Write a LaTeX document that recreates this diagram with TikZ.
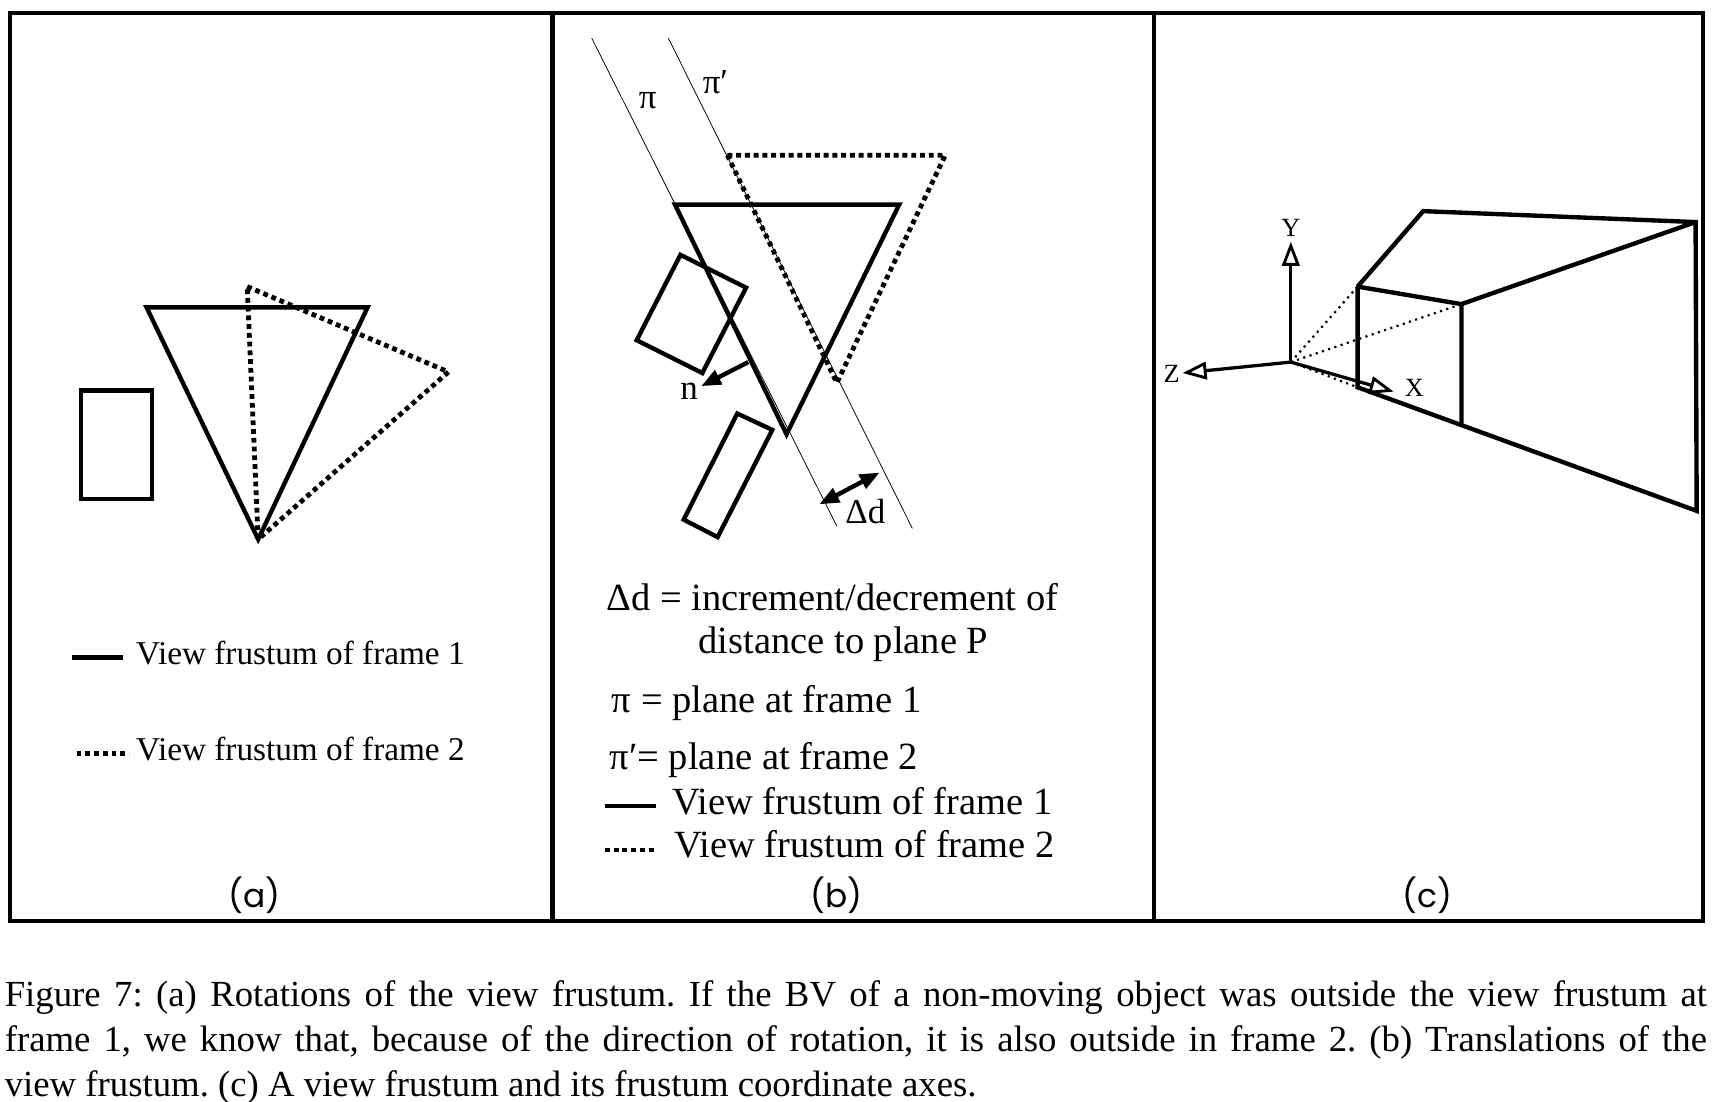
\documentclass[tikz,border=0pt]{standalone}
\usepackage{fontspec}
\setmainfont{Liberation Serif}
\newfontfamily\labfont{Poppins}
\usetikzlibrary{arrows.meta}
\begin{document}
\begin{tikzpicture}[x=0.5pt,y=-0.5pt,
  thk/.style={line width=2pt,line join=miter},
  dots/.style={line width=2.2pt,dash pattern=on 2.2pt off 1.8pt},
  thin/.style={line width=0.35pt},
  lbl/.style={inner sep=0pt,anchor=base west},
  opentip/.style={-{Triangle[open,length=11pt,width=8pt,line width=1.3pt]}},
  filltip/.style={-{Triangle[length=9pt,width=7pt]}}]
\useasboundingbox (0,0) rectangle (1565,1007);
% frames
\draw[line width=2pt] (9,12) rectangle (1557,842);
\draw[line width=2pt] (505,12) -- (505,842);
\draw[line width=2pt] (1055,12) -- (1055,842);
% panel a
\draw[thk] (74,357) rectangle (139,456);
\draw[thk] (134,281) -- (336,281) -- (236,493) -- cycle;
\draw[dots] (226,262) -- (410,340) -- (236,493) -- cycle;
\draw[thk] (66,601) -- (112,601);
\draw[dots] (70,689) -- (118,689);
\node[lbl,font=\fontsize{15.2}{17}\selectfont] (la1) at (124,607) {View frustum of frame 1};
\node[lbl,font=\fontsize{15.2}{17}\selectfont] (la2) at (124,695) {View frustum of frame 2};
\node[font=\labfont\fontsize{15}{16}\selectfont] (ta) at (233,818) {(a)};
% panel b
\draw[thin] (541,35) -- (765,481);
\draw[thin] (611,35) -- (834,483);
\node[font=\fontsize{16}{18}\selectfont] (pi) at (592,92) {π};
\node[font=\fontsize{16}{18}\selectfont] (pip) at (654,75) {π′};
\draw[dots] (665,142) -- (864,142) -- (765,350) -- cycle;
\draw[thk] (617,187) -- (822,187) -- (719,397) -- cycle;
\draw[thk] (622,233) -- (682,263) -- (642,341) -- (582,311) -- cycle;
\draw[thk] (674,378) -- (706,393) -- (656,491) -- (625,475) -- cycle;
\coordinate (n0) at (684,331);
\node[inner sep=0pt,font=\fontsize{16}{18}\selectfont] (n) at (630,358) {n};
\coordinate (nt) at (641,353);
\draw[line width=2pt,filltip] (n0) -- (nt);
\coordinate (d1) at (749,461);
\coordinate (d2) at (804,432);
\draw[line width=2pt,{Triangle[length=9pt,width=7pt]}-{Triangle[length=9pt,width=7pt]}] (d1) -- (d2);
\node[font=\fontsize{16}{18}\selectfont,inner sep=0pt] (dd) at (791,468) {Δd};
\begin{scope}[font=\fontsize{17.6}{19}\selectfont]
\node[inner sep=0pt,anchor=base] (b1) at (761,558) {Δd = increment/decrement of};
\node[inner sep=0pt,anchor=base] (b2) at (771,597) {distance to plane P};
\node[lbl] (b3) at (559,651) {π = plane at frame 1};
\node[lbl] (b4) at (557,703) {π′= plane at frame 2};
\node[lbl] (b5) at (614,745) {View frustum of frame 1};
\node[lbl] (b6) at (616,784) {View frustum of frame 2};
\end{scope}
\draw[thk] (553,737) -- (600,737);
\draw[dots] (553,777) -- (598,777);
\node[font=\labfont\fontsize{15}{16}\selectfont] (tb) at (765,818) {(b)};
% panel c
\coordinate (o) at (1180,331);
\coordinate (yt) at (1180,221);
\coordinate (zt) at (1081,341);
\coordinate (xt) at (1274,358);
\draw[line width=1.5pt,opentip] (o) -- (yt);
\draw[line width=1.5pt,opentip] (o) -- (zt);
\draw[line width=1.5pt,opentip] (o) -- (xt);
\node[font=\fontsize{12}{13}\selectfont] (ly) at (1180,208) {Y};
\node[font=\fontsize{12}{13}\selectfont] (lz) at (1071,342) {Z};
\node[font=\fontsize{12}{13}\selectfont] (lx) at (1293,355) {X};
\coordinate (ntl) at (1241,262);
\coordinate (ntr) at (1336,278);
\coordinate (nbr) at (1336,388);
\coordinate (nbl) at (1241,354);
\coordinate (ftl) at (1301,193);
\coordinate (ftr) at (1550,203);
\coordinate (fbr) at (1551,467);
\draw[line width=1pt,dotted] (o) -- (ntl);
\draw[line width=1pt,dotted] (o) -- (ntr);
\draw[line width=1pt,dotted] (o) -- (nbl);
\draw[thk] (ntl) -- (ntr) -- (nbr);
\draw[thk] (ntl) -- (nbl) -- (fbr) -- (ftr) -- (ftl) -- (ntl);
\draw[thk] (ntr) -- (ftr);
\node[font=\labfont\fontsize{15}{16}\selectfont] (tc) at (1305,818) {(c)};
% caption
\node[anchor=base west,inner sep=0pt,text width=778pt,align=justify,
  font=\frenchspacing\fontsize{16.8}{20.5}\selectfont] (cap) at (4,920)
{Figure 7: (a) Rotations of the view frustum. If the BV of a non-moving object was outside the view frustum at\linebreak frame 1, we know that, because of the direction of rotation, it is also outside in frame 2. (b) Translations of the\linebreak view frustum. (c) A view frustum and its frustum coordinate axes.};
\end{tikzpicture}
\end{document}
